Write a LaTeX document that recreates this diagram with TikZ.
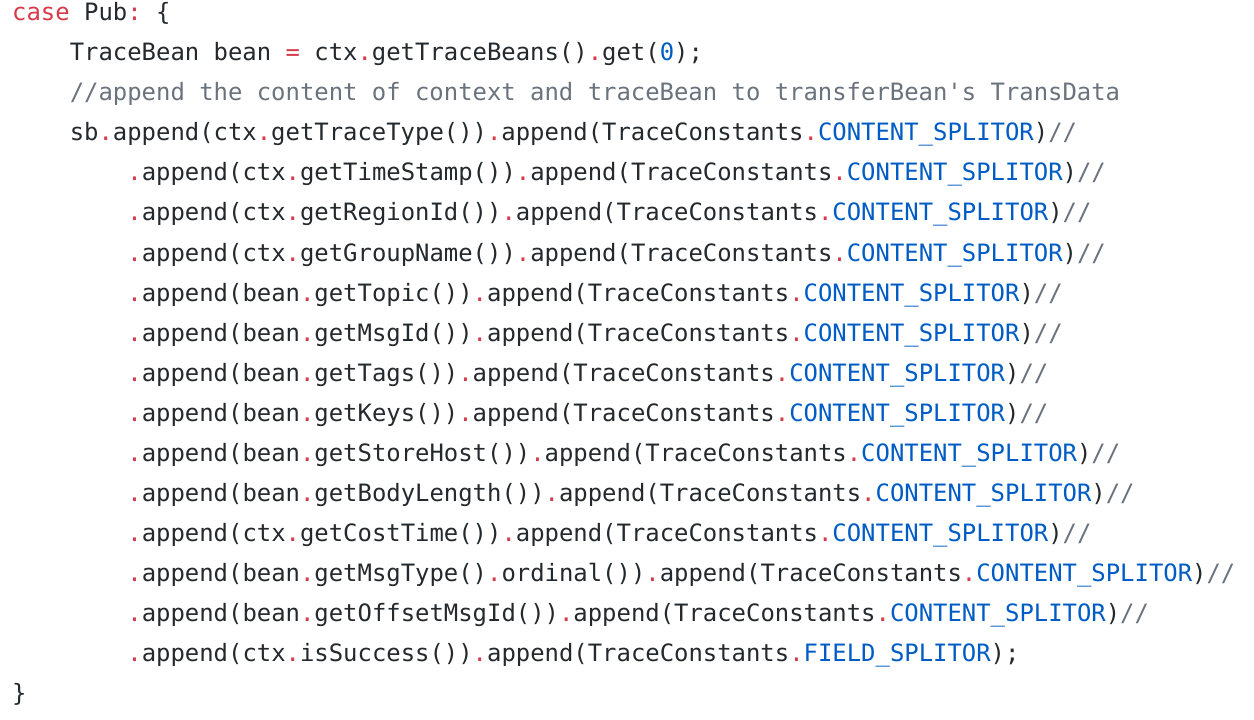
\documentclass[tikz,border=0pt]{standalone}
\usepackage{fontspec}
\setmonofont{DejaVu Sans Mono}
\definecolor{kred}{HTML}{D73A49}
\definecolor{kblue}{HTML}{005CC5}
\definecolor{kgray}{HTML}{6A737D}
\definecolor{ktext}{HTML}{24292E}
\newcommand\kd{\textcolor{kred}{.}}
\newcommand\kb[1]{\textcolor{kblue}{#1}}
\newcommand\kg[1]{\textcolor{kgray}{#1}}
\newcommand\kr[1]{\textcolor{kred}{#1}}
\newcommand\CS{TraceConstants\kd\kb{CONTENT\_SPLITOR})\kg{//}}
\begin{document}
\begin{tikzpicture}[x=1bp,y=-1bp,
  code/.style={anchor=base west,inner sep=0pt,text=ktext,font=\ttfamily\fontsize{23.9bp}{40bp}\selectfont}]
\fill[white] (0,0) rectangle (1254,720);
\useasboundingbox (0,0) rectangle (1254,720);
\def\cw{14.4}
\node[code] (l1) at (12,21) {\kr{case} Pub\kr{:} \{};
\node[code] (l2) at (12+4*\cw,61) {TraceBean bean \kr{=} ctx\kd getTraceBeans()\kd get(\kb{0});};
\node[code] (l3) at (12+4*\cw,101) {\kg{//append the content of context and traceBean to transferBean's TransData}};
\node[code] (l4) at (12+4*\cw,141) {sb\kd append(ctx\kd getTraceType())\kd append(\CS};
\node[code] (l5) at (12+8*\cw,181) {\kd append(ctx\kd getTimeStamp())\kd append(\CS};
\node[code] (l6) at (12+8*\cw,221) {\kd append(ctx\kd getRegionId())\kd append(\CS};
\node[code] (l7) at (12+8*\cw,261) {\kd append(ctx\kd getGroupName())\kd append(\CS};
\node[code] (l8) at (12+8*\cw,301) {\kd append(bean\kd getTopic())\kd append(\CS};
\node[code] (l9) at (12+8*\cw,341) {\kd append(bean\kd getMsgId())\kd append(\CS};
\node[code] (l10) at (12+8*\cw,381) {\kd append(bean\kd getTags())\kd append(\CS};
\node[code] (l11) at (12+8*\cw,421) {\kd append(bean\kd getKeys())\kd append(\CS};
\node[code] (l12) at (12+8*\cw,461) {\kd append(bean\kd getStoreHost())\kd append(\CS};
\node[code] (l13) at (12+8*\cw,501) {\kd append(bean\kd getBodyLength())\kd append(\CS};
\node[code] (l14) at (12+8*\cw,541) {\kd append(ctx\kd getCostTime())\kd append(\CS};
\node[code] (l15) at (12+8*\cw,581) {\kd append(bean\kd getMsgType()\kd ordinal())\kd append(\CS};
\node[code] (l16) at (12+8*\cw,621) {\kd append(bean\kd getOffsetMsgId())\kd append(\CS};
\node[code] (l17) at (12+8*\cw,661) {\kd append(ctx\kd isSuccess())\kd append(TraceConstants\kd\kb{FIELD\_SPLITOR});};
\node[code] (l18) at (12,701) {\}};
\end{tikzpicture}
\end{document}
